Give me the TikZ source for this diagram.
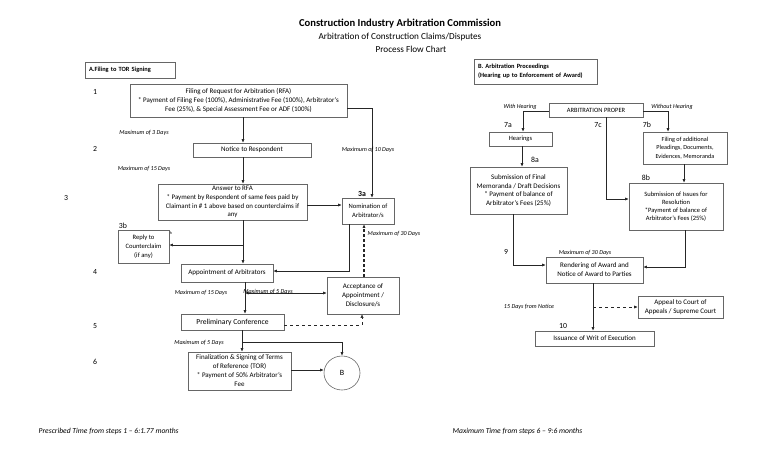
\documentclass[tikz,border=0pt]{standalone}
\usepackage{fontspec}
\setmainfont{Carlito}
\usetikzlibrary{arrows.meta,shapes.geometric}
\begin{document}
\begin{tikzpicture}[x=1pt,y=-1pt,
  box/.style={draw=black!60, line width=0.6pt, inner sep=0.5pt, align=center,
    font=\fontsize{7}{9}\selectfont},
  arr/.style={-{Latex[length=3.5pt,width=3.2pt]}, line width=0.7pt, draw=black!85},
  darr/.style={{Latex[length=3.5pt,width=3.2pt]}-{Latex[length=3.5pt,width=3.2pt]}, line width=0.7pt, draw=black!85},
  ln/.style={line width=0.7pt, draw=black!85},
  lab/.style={font=\fontsize{6.1}{7}\selectfont\itshape, inner sep=0.5pt},
  num/.style={font=\fontsize{7.8}{8}\selectfont, inner sep=0pt},
  hdr/.style={draw=black!60, line width=0.6pt, align=left, inner xsep=4pt,
    font=\fontsize{6.4}{8.5}\selectfont\bfseries},
]
\useasboundingbox (0,0) rectangle (768,466);

% titles
\node[font=\fontsize{10.6}{11}\selectfont\bfseries] (t1) at (400,24) {Construction Industry Arbitration Commission};
\node[font=\fontsize{9.2}{10}\selectfont] (t2) at (400,37) {Arbitration of Construction Claims/Disputes};
\node[font=\fontsize{9.2}{10}\selectfont] (t3) at (411,49) {Process Flow Chart};

% section headers
\node[hdr, minimum width=90pt, minimum height=16pt, text width=82pt] (hA) at (130,70) {A.Filing to TOR Signing};
\node[hdr, minimum width=123pt, minimum height=25pt, text width=115pt] (hB) at (535.5,71.5) {B. Arbitration Proceedings\\(Hearing up to Enforcement of Award)};

% step numbers
\node[num] (n1) at (95,92) {1};
\node[num] (n2) at (95,149) {2};
\node[num] (n3) at (66,198) {3};
\node[num] (n4) at (95,272) {4};
\node[num] (n5) at (95,326) {5};
\node[num] (n6) at (95,362) {6};
\node[num, font=\fontsize{7.8}{8}\selectfont\bfseries] (n3a) at (362,194) {3a};
\node[num] (n3b) at (123,226) {3b};
\node[num] (n7a) at (508,125) {7a};
\node[num] (n7c) at (598,125) {7c};
\node[num] (n7b) at (647,125) {7b};
\node[num] (n8a) at (535,160) {8a};
\node[num] (n8b) at (646,178) {8b};
\node[num] (n9) at (506,252) {9};
\node[num] (n10) at (563,326) {10};
\node[font=\fontsize{4}{4}\selectfont, inner sep=0pt] (hh) at (171,233) {h};

% left boxes
\node[box, minimum width=217pt, minimum height=33pt] (rfa) at (238.5,100.5)
  {Filing of Request for Arbitration (RFA)\\* Payment of Filing Fee (100\%), Administrative Fee (100\%), Arbitrator's\\Fee (25\%), \& Special Assessment Fee or ADF (100\%)};
\node[box, minimum width=118pt, minimum height=14pt] (notice) at (252,150) {Notice to Respondent};
\node[box, minimum width=149pt, minimum height=36pt, font=\fontsize{6.9}{8.8}\selectfont] (answer) at (232.5,202)
  {Answer to RFA\\* Payment by Respondent of same fees paid by\\Claimant in \# 1 above based on counterclaims if\\any};
\node[box, minimum width=52pt, minimum height=26pt, font=\fontsize{6.6}{9}\selectfont] (nom) at (368,211) {Nomination of\\Arbitrator/s};
\node[box, minimum width=51pt, minimum height=33pt, font=\fontsize{6.6}{9}\selectfont] (reply) at (143.5,246.5) {Reply to\\Counterclaim\\(if any)};
\node[box, minimum width=92pt, minimum height=18pt] (appt) at (227,273) {Appointment of Arbitrators};
\node[box, minimum width=72pt, minimum height=37pt] (accept) at (363,295.5) {Acceptance of\\Appointment /\\Disclosure/s};
\node[box, minimum width=103pt, minimum height=16pt, font=\fontsize{7.6}{8}\selectfont] (prelim) at (232.5,322) {Preliminary Conference};
\node[box, minimum width=103pt, minimum height=38pt] (final) at (239.5,371)
  {Finalization \& Signing of Terms\\of Reference (TOR)\\* Payment of 50\% Arbitrator's\\Fee};
\node[box, ellipse, minimum width=36pt, minimum height=34pt, font=\fontsize{8}{8}\selectfont] (B) at (342,373) {B};

% right boxes
\node[box, minimum width=94pt, minimum height=14pt, font=\fontsize{6.5}{8}\selectfont] (arb) at (596,110) {ARBITRATION PROPER};
\node[box, minimum width=63pt, minimum height=14pt, font=\fontsize{6.5}{8}\selectfont] (hear) at (520.5,139) {Hearings};
\node[box, minimum width=97pt, minimum height=47pt, font=\fontsize{7}{8.6}\selectfont] (subf) at (518.5,190.5)
  {Submission of Final\\Memoranda / Draft Decisions\\* Payment of balance of\\Arbitrator's Fees (25\%)};
\node[box, minimum width=84pt, minimum height=32pt, font=\fontsize{6.2}{8.5}\selectfont] (filing) at (685,148)
  {Filing of additional\\Pleadings, Documents,\\Evidences, Memoranda};
\node[box, minimum width=94pt, minimum height=47pt, font=\fontsize{6.5}{8.2}\selectfont] (issues) at (676,206.5)
  {Submission of Issues for\\Resolution\\*Payment of balance of\\Arbitrator's Fees (25\%)};
\node[box, minimum width=97pt, minimum height=26pt] (render) at (594.5,270)
  {Rendering of Award and\\Notice of Award to Parties};
\node[box, minimum width=85pt, minimum height=22pt] (appeal) at (680.5,307)
  {Appeal to Court of\\Appeals / Supreme Court};
\node[box, minimum width=119pt, minimum height=15pt] (writ) at (594.5,338.5) {Issuance of Writ of Execution};

% helper coordinates
\coordinate (xa) at (243,0);
\coordinate (xb) at (372,108);
\coordinate (xc) at (349,271);
\coordinate (xd) at (364,0);
\coordinate (xe) at (245,293);
\coordinate (xf) at (362,325);
\coordinate (xg) at (242,342);
\coordinate (xh) at (342,342);
\coordinate (xi) at (243,245);
\coordinate (xj) at (0,205);
\coordinate (xk) at (523,111);
\coordinate (xl) at (522,0);
\coordinate (xm) at (606,199);
\coordinate (xn) at (668,111);
\coordinate (xo) at (684,0);
\coordinate (xp) at (513,265);
\coordinate (xq) at (685,267);
\coordinate (xr) at (593,307);
\coordinate (xs) at (0,370);

% left connectors
\draw[arr] (rfa.south -| xa) -- (notice.north -| xa);
\draw[arr] (rfa.east |- xb) -- (xb) -- (nom.north -| xb);
\draw[arr] (notice.south -| xa) -- (answer.north -| xa);
\draw[arr] (answer.east |- xj) -- (nom.west |- xj);
\draw[arr] (answer.south -| xa) -- (appt.north -| xa);
\draw[arr] (xi) -- (reply.east |- xi);
\draw[arr] (nom.south -| xc) -- (xc) -- (appt.east |- xc);
\draw[arr, densely dashed, line width=1.1pt] (accept.north -| xd) -- (nom.south -| xd);
\draw[arr] (appt.south -| xe) -- (prelim.north -| xe);
\draw[darr] (xe) -- (accept.west |- xe);
\draw[arr, dashed, line width=0.5pt] (prelim.east |- xf) -- (xf) -- (accept.south -| xf);
\draw[arr] (prelim.south -| xg) -- (final.north -| xg);
\draw[arr] (xg) -- (xh) -- (B.north);
\draw[arr] (final.east |- xs) -- (B.west |- xs);

% right connectors
\draw[arr] (arb.west |- xk) -- (xk) -- (hear.north -| xk);
\draw[arr] (hear.south -| xl) -- (subf.north -| xl);
\draw[arr] (arb.south -| xm) -- (xm) -- (issues.west |- xm);
\draw[arr] (arb.east |- xn) -- (xn) -- (filing.north -| xn);
\draw[arr] (filing.south -| xo) -- (issues.north -| xo);
\draw[arr] (subf.south -| xp) -- (xp) -- (render.west |- xp);
\draw[arr] (issues.south -| xq) -- (xq) -- (render.east |- xq);
\draw[arr] (render.south -| xr) -- (writ.north -| xr);
\draw[arr, dashed, line width=0.6pt] (xr) -- (appeal.west |- xr);

% labels
\node[lab] (l1) at (144,133) {Maximum of 3 Days};
\node[lab] (l2) at (144,169) {Maximum of 15 Days};
\node[lab] (l3) at (368,150) {Maximum of 10 Days};
\node[lab, anchor=west] (l4) at (367,234) {Maximum of 30 Days};
\node[lab] (l5) at (201,293) {Maximum of 15 Days};
\node[lab] (l6) at (268,292) {Maximum of 5 Days};
\node[lab] (l7) at (199,343) {Maximum of 5 Days};
\node[lab] (l8) at (520,107) {With Hearing};
\node[lab] (l9) at (672,107) {Without Hearing};
\node[lab] (l10) at (585,253) {Maximum of 30 Days};
\node[lab] (l11) at (529,307) {15 Days from Notice};
\node[lab, anchor=west, font=\fontsize{7.6}{8}\selectfont\itshape] (f1) at (38,431) {Prescribed Time from steps 1 -- 6:1.77 months};
\node[lab, anchor=west, font=\fontsize{7.6}{8}\selectfont\itshape] (f2) at (452,431) {Maximum Time from steps 6 -- 9:6 months};
\end{tikzpicture}
\end{document}
